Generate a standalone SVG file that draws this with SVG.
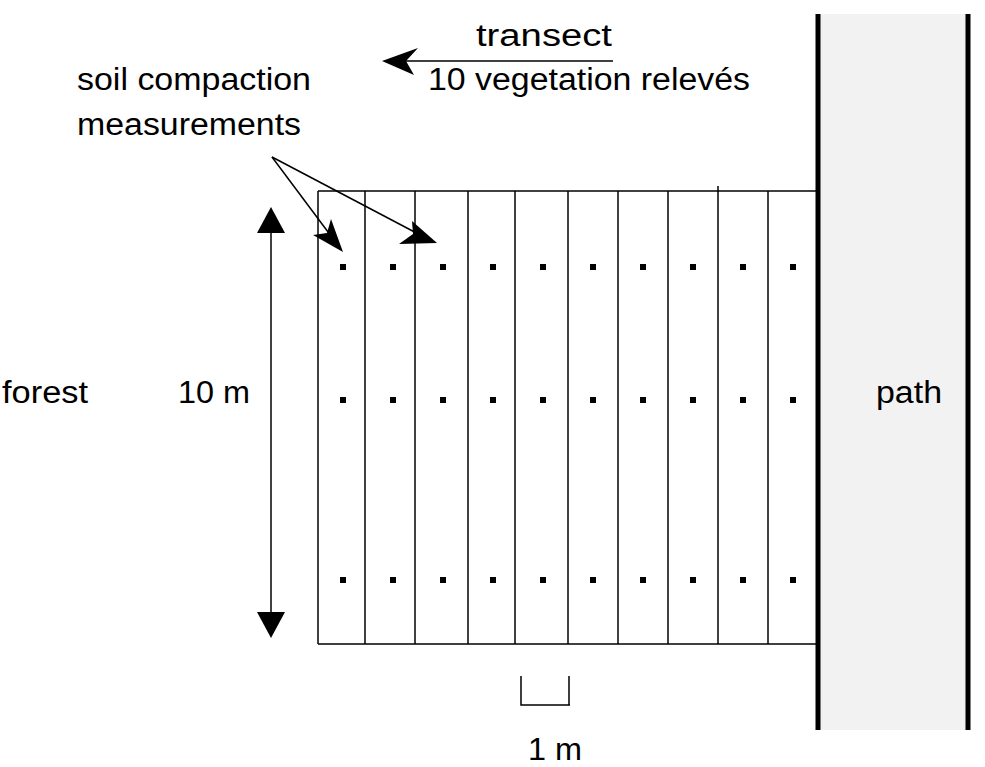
<svg xmlns="http://www.w3.org/2000/svg" width="985" height="767" viewBox="0 0 985 767">
<style>
text{font-family:"Liberation Sans",Arial,sans-serif;font-size:31px;fill:#000}
.l{stroke:#000;stroke-width:1.5;fill:none}
.d{fill:#000}
</style>
<rect width="985" height="767" fill="#fff"/>
<g id="path-area">
<rect x="818" y="14" width="150" height="716" fill="#f2f2f2"/>
<line x1="818" y1="14" x2="818" y2="730" stroke="#000" stroke-width="5"/>
<line x1="968" y1="14" x2="968" y2="730" stroke="#000" stroke-width="5"/>
<text x="876" y="403" textLength="66" lengthAdjust="spacingAndGlyphs">path</text>
</g>
<g id="grid">
<line class="l" x1="318" y1="191" x2="818" y2="191" stroke-width="2"/>
<line class="l" x1="318" y1="644" x2="818" y2="644" stroke-width="2"/>
<g class="l">
<line x1="318" y1="191" x2="318" y2="644"/><line x1="365" y1="191" x2="365" y2="644"/>
<line x1="415" y1="191" x2="415" y2="644"/><line x1="468" y1="191" x2="468" y2="644"/>
<line x1="515" y1="191" x2="515" y2="644"/><line x1="568" y1="191" x2="568" y2="644"/>
<line x1="618" y1="191" x2="618" y2="644"/><line x1="668" y1="191" x2="668" y2="644"/>
<line x1="718" y1="186" x2="718" y2="644"/><line x1="768" y1="191" x2="768" y2="644"/>
</g>
<g class="d">
<rect x="340" y="264" width="6" height="6"/><rect x="390" y="264" width="6" height="6"/><rect x="440" y="264" width="6" height="6"/><rect x="490" y="264" width="6" height="6"/><rect x="540" y="264" width="6" height="6"/><rect x="590" y="264" width="6" height="6"/><rect x="640" y="264" width="6" height="6"/><rect x="690" y="264" width="6" height="6"/><rect x="740" y="264" width="6" height="6"/><rect x="790" y="264" width="6" height="6"/>
<rect x="340" y="397" width="6" height="6"/><rect x="390" y="397" width="6" height="6"/><rect x="440" y="397" width="6" height="6"/><rect x="490" y="397" width="6" height="6"/><rect x="540" y="397" width="6" height="6"/><rect x="590" y="397" width="6" height="6"/><rect x="640" y="397" width="6" height="6"/><rect x="690" y="397" width="6" height="6"/><rect x="740" y="397" width="6" height="6"/><rect x="790" y="397" width="6" height="6"/>
<rect x="340" y="577" width="6" height="6"/><rect x="390" y="577" width="6" height="6"/><rect x="440" y="577" width="6" height="6"/><rect x="490" y="577" width="6" height="6"/><rect x="540" y="577" width="6" height="6"/><rect x="590" y="577" width="6" height="6"/><rect x="640" y="577" width="6" height="6"/><rect x="690" y="577" width="6" height="6"/><rect x="740" y="577" width="6" height="6"/><rect x="790" y="577" width="6" height="6"/>
</g>
</g>
<g id="labels">
<text x="2" y="403" textLength="86" lengthAdjust="spacingAndGlyphs">forest</text>
<text x="178" y="403" textLength="72" lengthAdjust="spacingAndGlyphs">10 m</text>
<text x="476" y="46" textLength="136" lengthAdjust="spacingAndGlyphs">transect</text>
<text x="428" y="90" textLength="322" lengthAdjust="spacingAndGlyphs">10 vegetation relevés</text>
<text x="77" y="90" textLength="234" lengthAdjust="spacingAndGlyphs">soil compaction</text>
<text x="77" y="135" textLength="224" lengthAdjust="spacingAndGlyphs">measurements</text>
<text x="528" y="760" textLength="54" lengthAdjust="spacingAndGlyphs">1 m</text>
</g>
<g id="connectors">
<line class="l" x1="271" y1="228" x2="271" y2="616" stroke-width="2"/>
<polygon class="d" points="271,207 257,233 285,233"/>
<polygon class="d" points="271,638 257,612 285,612"/>
<line class="l" x1="400" y1="61" x2="613" y2="61" stroke-width="1.2"/>
<polygon points="382,61 418,48 406,61 414,75" class="d"/>
<line class="l" x1="272" y1="157" x2="334" y2="240" stroke-width="1.2"/>
<polygon class="d" points="343,252 331,219 327,233 313,235"/>
<line class="l" x1="272" y1="157" x2="424" y2="237" stroke-width="1.2"/>
<polygon class="d" points="437,243 412,221 413,234 399,244"/>
<path class="l" d="M521,676 V705 H570 M569,676 V705" stroke-width="1.5"/>
</g>
</svg>
